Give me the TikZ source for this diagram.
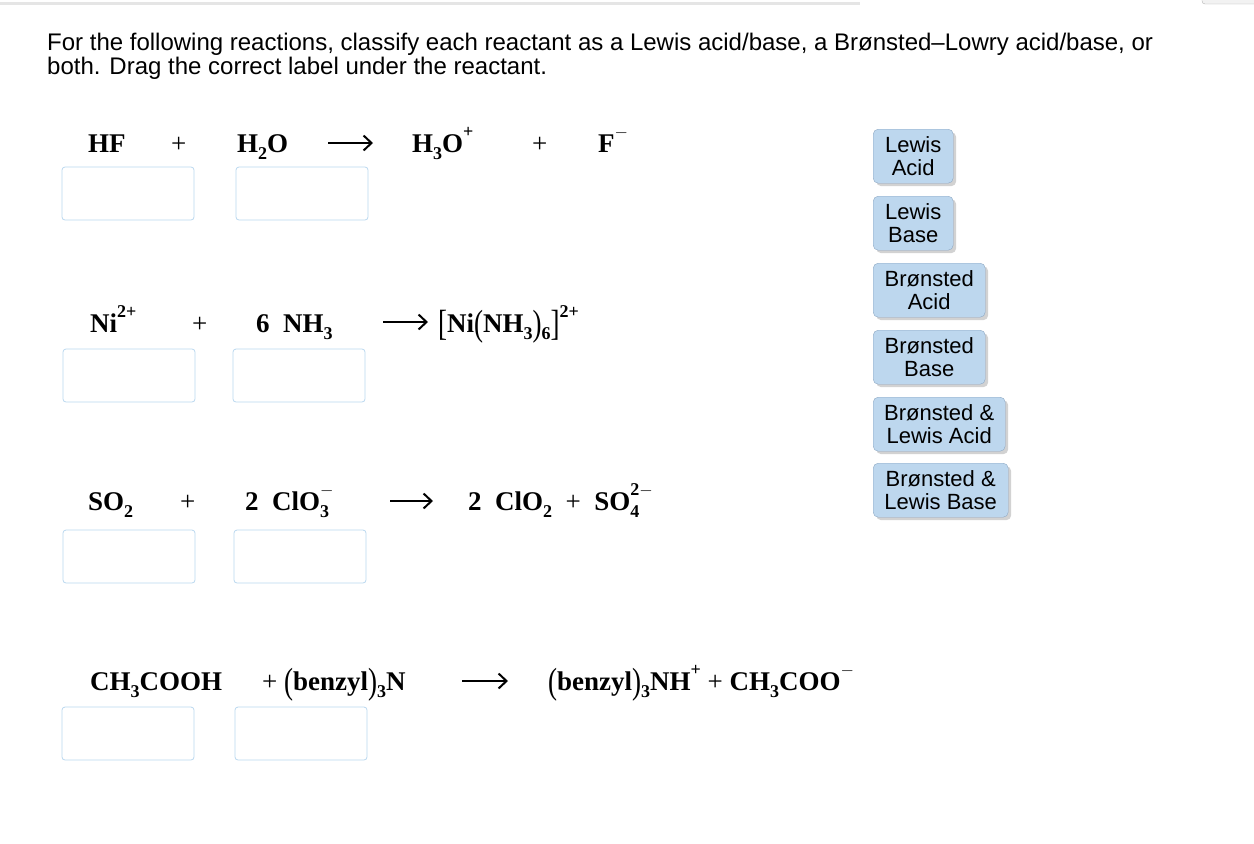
\documentclass[tikz,border=0pt]{standalone}
\usepackage{fontspec}
\setmainfont{Liberation Serif}
\newfontfamily\qfont{Liberation Sans}
\definecolor{btn}{HTML}{BDD7EE}
\definecolor{btnb}{HTML}{8FA9C4}
\definecolor{boxb}{HTML}{B9D7EE}
\newcommand\chsub[1]{\raisebox{-0.28em}{\fontsize{18}{18}\selectfont\bfseries #1}}
\newcommand\chsup[1]{\raisebox{0.55em}{\fontsize{18}{18}\selectfont\bfseries #1}}
\newcommand\chsubsup[2]{\makebox[0pt][l]{\chsub{#1}}\chsup{#2}}
\newcommand\bigbr[1]{\raisebox{-0.12em}{\scalebox{1}[1.35]{\mdseries #1}}}
\usetikzlibrary{shadows,arrows.meta}
\tikzset{
  ans/.style={draw=boxb,rounded corners=3pt,line width=0.8pt},
  chem/.style={anchor=base west,inner sep=0pt,font=\fontsize{27}{27}\selectfont\bfseries},
  plus/.style={anchor=base west,inner sep=0pt,font=\fontsize{27}{27}\selectfont},
  lbl/.style={draw=btnb,fill=btn,rounded corners=5pt,align=center,font=\qfont\fontsize{22}{23}\selectfont,inner sep=0pt,
    drop shadow={fill=gray!70,shadow xshift=3pt,shadow yshift=-3pt}},
  arr/.style={-{Straight Barb[length=8pt,width=15pt,line width=2pt]},line width=2.2pt}
}
\begin{document}
\begin{tikzpicture}[x=1pt,y=-1pt]
\useasboundingbox (0,0) rectangle (1254,844);
\fill[gray!20] (0,2) rectangle (860,5);
\draw[gray!60,fill=gray!10,rounded corners=3pt] (1202,-5) rectangle (1260,4);
\node[anchor=north west,align=left,inner sep=0pt,font=\qfont\fontsize{24}{24}\selectfont] (q) at (47,33)
 {For the following reactions, classify each reactant as a Lewis acid/base, a Brønsted–Lowry acid/base, or\\both. Drag the correct label under the reactant.};
% buttons
\foreach \n/\x/\y/\w/\t in {la/873/129/80/{Lewis\\Acid},lb/873/196/80/{Lewis\\Base},ba/873/263/112/{Brønsted\\Acid},bb/873/330/112/{Brønsted\\Base},bla/873/397/132/{Brønsted \&\\Lewis Acid},blb/873/463/135/{Brønsted \&\\Lewis Base}}
  \node[lbl,minimum width=\w pt,minimum height=54pt,anchor=north west] (\n) at (\x,\y) {\t};
% answer boxes
\foreach \n/\x/\y in {a1/62/167,a2/236/167,b1/63/349,b2/233/349,c1/63/530,c2/234/530,d1/62/707,d2/235/707}
  \draw[ans] (\x,\y) rectangle ++(132,53) coordinate (\n);
% row 1
\node[chem] (r1a) at (88,152) {HF};
\node[plus] (p1) at (171,152) {+};
\node[chem] (r1b) at (237,152) {H\chsub{2}O};
\coordinate (s1) at (328,143); \coordinate (e1) at (373,143);
\draw[arr] (s1) -- (e1);
\node[chem] (r1c) at (412,152) {H\chsub{3}O\chsup{+}};
\node[plus] (p1b) at (532,152) {+};
\node[chem] (r1d) at (598,152) {F\chsup{$-$}};
% row 2
\node[chem] (r2a) at (90,332) {Ni\chsup{2+}};
\node[plus] (p2) at (192,332) {+};
\node[chem] (r2b) at (256,332) {6\ \ NH\chsub{3}};
\coordinate (s2) at (383,322); \coordinate (e2) at (428,322);
\draw[arr] (s2) -- (e2);
\node[chem] (r2c) at (438,332) {\bigbr{[}Ni\bigbr{(}NH\chsub{3}\bigbr{)}\chsub{6}\bigbr{]}\chsup{2+}};
% row 3
\node[chem] (r3a) at (88,510) {SO\chsub{2}};
\node[plus] (p3) at (180,510) {+};
\node[chem] (r3b) at (245,510) {2\ \ ClO\chsubsup{3}{$-$}};
\coordinate (s3) at (390,501); \coordinate (e3) at (433,501);
\draw[arr] (s3) -- (e3);
\node[chem] (r3c) at (468,510) {2\ \ ClO\chsub{2}\ \ \textmd{+}\ \ SO\chsubsup{4}{2$-$}};
% row 4
\node[chem] (r4a) at (90,690) {CH\chsub{3}COOH};
\node[chem] (r4b) at (262,690) {\textmd{+} \bigbr{(}benzyl\bigbr{)}\chsub{3}N};
\coordinate (s4) at (462,681); \coordinate (e4) at (508,681);
\draw[arr] (s4) -- (e4);
\node[chem] (r4c) at (548,690) {\bigbr{(}benzyl\bigbr{)}\chsub{3}NH\chsup{+} \textmd{+} CH\chsub{3}COO\chsup{$-$}};
\end{tikzpicture}
\end{document}
